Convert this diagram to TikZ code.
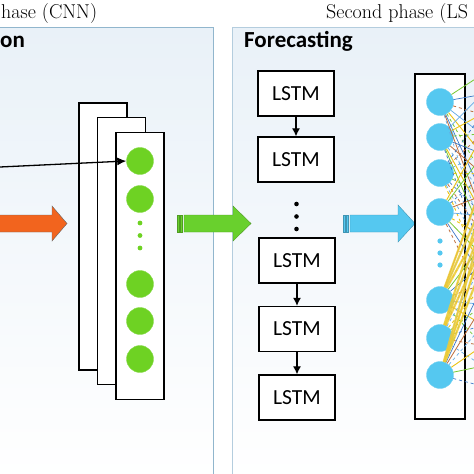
\documentclass[tikz,border=0pt]{standalone}
\usepackage{fontspec}
\newfontfamily\carlito{Carlito}
\usetikzlibrary{arrows.meta}
\definecolor{panelline}{RGB}{145,182,205}
\definecolor{panelline2}{RGB}{180,205,222}
\definecolor{panelfill}{RGB}{233,241,248}
\definecolor{cnngreen}{RGB}{110,210,35}
\definecolor{arrgreen}{RGB}{105,208,45}
\definecolor{arrorange}{RGB}{242,100,30}
\definecolor{arrcyan}{RGB}{85,200,240}
\definecolor{neuron}{RGB}{85,200,240}
\definecolor{lcA}{RGB}{60,120,200}
\definecolor{lcB}{RGB}{235,195,20}
\definecolor{lcC}{RGB}{190,110,60}
\definecolor{lcD}{RGB}{120,200,50}
\definecolor{lcE}{RGB}{100,170,230}
\begin{document}
\begin{tikzpicture}[x=1pt,y=-1pt,
  header/.style={anchor=base west,inner sep=0pt,font=\fontsize{20}{24}\selectfont},
  ptitle/.style={anchor=base west,inner sep=0pt,font=\carlito\bfseries\fontsize{23}{26}\selectfont},
  cnnbox/.style={draw=black,line width=1.2pt,fill=white,minimum width=48pt,minimum height=267pt,inner sep=0pt},
  gcirc/.style={circle,fill=cnngreen,draw=cnngreen!80!white,minimum size=27pt,inner sep=0pt},
  ncirc/.style={circle,fill=neuron,draw=neuron!80!white,minimum size=27pt,inner sep=0pt},
  lstm/.style={draw=black,line width=1.3pt,fill=white,minimum width=76pt,minimum height=45pt,inner sep=0pt,font=\carlito\fontsize{21.5}{21.5}\selectfont},
  dense/.style={draw=black,line width=1.5pt,fill=white,minimum width=50pt,minimum height=345pt,inner sep=0pt},
  flow/.style={-{Latex[length=8pt,width=8pt]},line width=1.2pt},
  line0/.style={lcA,line width=0.7pt},
  line1/.style={lcB,line width=0.9pt},
  line2/.style={lcC,line width=0.8pt},
  line3/.style={lcD,line width=0.8pt},
  line4/.style={lcE,line width=0.7pt}
]
\useasboundingbox (0,0) rectangle (474,474);
\begin{scope}
\clip (0,0) rectangle (474,474);
\fill[white] (0,0) rectangle (474,474);
% panels
\shade[top color=panelfill,bottom color=white] (-5,27) rectangle (213,480);
\draw[panelline,line width=0.9pt] (-5,27) -- (213,27) -- (213,480);
\shade[top color=panelfill,bottom color=white] (232,27) rectangle (480,480);
\draw[panelline2,line width=0.9pt] (232,480) -- (232,27) -- (480,27);
% headers
\node[header] (h1) at (1,18) {hase (CNN)};
\node[header] (h2) at (326,18) {Second phase (LS};
\node[ptitle] (t1) at (0,47) {on};
\node[ptitle] (t2) at (244,47) {Forecasting};
% CNN feature maps
\node[cnnbox] (f1) at (103,236.5) {};
\node[cnnbox] (f2) at (121.5,251) {};
\node[cnnbox] (f3) at (140,266) {};
\node[gcirc] (g1) at (140,161) {};
\node[gcirc] (g2) at (140,199) {};
\fill[cnngreen] (140,223) circle (2.4) (140,235.5) circle (2.4) (140,248) circle (2.4);
\node[gcirc] (g3) at (140,284) {};
\node[gcirc] (g4) at (140,321) {};
\node[gcirc] (g5) at (140,359) {};
\coordinate (inp) at (0,167);
\draw[-{Latex[length=9pt,width=8pt]},line width=1.3pt] (inp) -- (g1.west);
% orange arrow
\filldraw[fill=arrorange,draw=gray!80!black,line width=0.4pt]
  (-5,215) -- (52,215) -- (52,206) -- (67,223.5) -- (52,241) -- (52,232) -- (-5,232) -- cycle;
% green arrow
\filldraw[fill=arrgreen,draw=arrgreen!75!black,line width=0.4pt]
  (177,215) rectangle (179,232) (180.5,215) rectangle (182.5,232);
\filldraw[fill=arrgreen,draw=arrgreen!75!black,line width=0.4pt]
  (184,215) -- (233,215) -- (233,206) -- (251,223.5) -- (233,241) -- (233,232) -- (184,232) -- cycle;
% cyan arrow
\filldraw[fill=arrcyan,draw=arrcyan!75!black,line width=0.4pt]
  (343,215) rectangle (345,232) (346.5,215) rectangle (348.5,232);
\filldraw[fill=arrcyan,draw=arrcyan!75!black,line width=0.4pt]
  (350,215) -- (398,215) -- (398,205) -- (415,223.5) -- (398,242) -- (398,232) -- (350,232) -- cycle;
% LSTM chain
\node[lstm] (l1) at (296,93.5) {LSTM};
\node[lstm] (l2) at (296,159.5) {LSTM};
\fill (296.5,204) circle (2.3) (296.5,216.5) circle (2.3) (296.5,229) circle (2.3);
\node[lstm] (l3) at (297,260.5) {LSTM};
\node[lstm] (l4) at (297,329) {LSTM};
\node[lstm] (l5) at (297,397.5) {LSTM};
\draw[flow] (l1) -- (l2);
\draw[flow] (l3) -- (l4);
\draw[flow] (l4) -- (l5);
% dense layer
\node[dense] (dl) at (440,246.5) {};
\node[ncirc] (n1) at (440,102) {};
\node[ncirc] (n2) at (440,137) {};
\node[ncirc] (n3) at (440,173) {};
\node[ncirc] (n4) at (440,212) {};
\fill[neuron] (440,241) circle (2.6) (440,253) circle (2.6) (440,265) circle (2.6);
\node[ncirc] (n5) at (440,300) {};
\node[ncirc] (n6) at (440,338) {};
\node[ncirc] (n7) at (440,375) {};
\foreach \j in {1,...,9} { \coordinate (tg\j) at (535,{40+45*(\j-1)}); }
\foreach \i in {1,...,7} {
  \foreach \j in {1,...,9} {
    \pgfmathtruncatemacro\c{mod(\i+2*\j,5)}
    \pgfmathtruncatemacro\d{mod(\i*\j,3)}
    \ifnum\d=0
      \draw[line\c,dashed] (n\i) -- (tg\j);
    \else
      \draw[line\c] (n\i) -- (tg\j);
    \fi
  }
}
\foreach \i in {5,6,7} {
  \foreach \j in {1,2,3} {
    \draw[lcB!85!white,line width=2.2pt,opacity=0.85] (n\i) -- (tg\j);
  }
}
\end{scope}
\end{tikzpicture}
\end{document}
